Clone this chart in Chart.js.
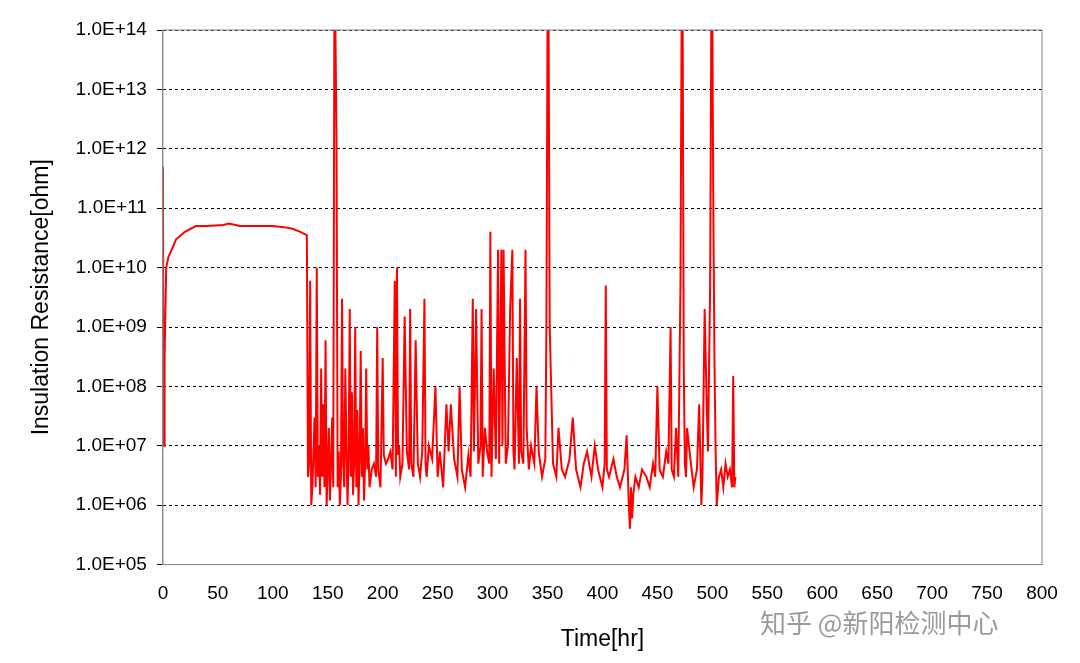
<!DOCTYPE html>
<html><head><meta charset="utf-8">
<script src="https://cdn.jsdelivr.net/npm/chart.js@4"></script>
<style>html,body{margin:0;background:#fff}#w{position:relative;width:1080px;height:663px}
#wm{position:absolute;left:760px;top:603px;font:26px "Noto Sans CJK SC";color:#9a9a9a}</style>
</head><body><div id="w"><canvas id="c" width="1080" height="663"></canvas><div id="wm">知乎 @新阳检测中心</div></div>
<script>
const yTicks=[1e5,1e6,1e7,1e8,1e9,1e10,1e11,1e12,1e13,1e14];
const xTicks=[0,50,100,150,200,250,300,350,400,450,500,550,600,650,700,750,800];
const times=[
0,0.5,1,1.5,2,3,5,8,12,20,
30,40,55,60,70,85,100,110,118,125,
130,131,132,133,134,135,136,137,138,139,
140,141,142,143,144,145,146,147,148,149,
150,151,152,153,154,155,156,157,158,159,
160,161,162,163,164,165,166,167,168,169,
170,171,172,173,174,175,176,177,178,179,
180,181,182,183,184,185,186,187,188,190,
192,194,195,196,198,200,201,203,205,207,
209,211,212,213,214,215,216,218,220,222,
224,225,226,228,230,232,233,234,236,238,
239,240,242,245,248,250,252,255,258,260,
262,265,268,270,272,275,278,280,282,283,
285,287,289,290,291,293,295,297,298,299,
301,303,305,306,308,309,310,312,314,316,
318,319,320,322,324,325,326,328,330,331,
333,335,338,340,342,345,348,349,350,351,
352,355,358,360,363,366,370,373,376,380,
383,386,390,393,396,400,402,403,404,406,
410,413,416,420,422,424,425,426,427,428,
430,433,436,440,443,446,448,450,452,455,
458,460,462,463,465,467,469,471,472,473,
474,475,476,477,480,483,486,488,490,491,
493,495,496,497,498,499,500,501,502,503,
504,506,508,510,512,514,516,518,519,520,
521];
const values=[
5e11,1e8,1e7,3e8,1e9,1e10,1.5e10,2e10,3e10,4e10,
5e10,5e10,5.2e10,5.5e10,5e10,5e10,5e10,4.8e10,4.5e10,4e10,
3.6e10,3.5e10,3e6,5e6,6e9,1e6,2e6,8e6,3e7,2e6,
1e10,3e6,1e7,1.5e6,2e8,3e6,5e7,2e6,6e8,1e6,
4e6,2e7,1.2e6,5e6,3e7,2e6,1e14,1e14,1e12,2e6,
8e6,1e6,3e6,3e9,5e6,2e6,2e8,1e7,1e6,6e6,
2e9,3e6,8e7,1.5e6,5e6,1e9,2e6,4e7,1e6,6e6,
4e8,3e6,2e7,1.2e6,5e6,2e8,4e6,1e7,2e6,4e6,
5e6,3e6,1e9,4e6,2e6,3e8,7e6,5e6,6e6,8e6,
4e6,6e9,3e6,1e10,7e6,1e7,3e6,5e6,1.5e9,8e6,
4e6,2e9,5e6,3e6,6e8,5e6,4e6,3e6,8e6,3e9,
5e6,3e6,1e7,6e6,1e8,3e6,8e6,2e6,5e7,8e6,
5e7,6e6,3e6,1e8,4e6,2e6,7e6,3e6,3e9,8e6,
2e9,5e6,1e7,2e9,3e6,2e7,8e6,5e6,4e10,3e6,
2e8,6e6,2e10,5e6,2e10,1e7,2e10,5e6,1e7,2e9,
2e10,8e6,4e6,3e8,5e6,3e9,8e6,5e6,2e10,2e7,
4e6,1e7,5e6,1e8,8e6,3e6,6e6,1e9,1e14,1e14,
1e9,5e6,3e6,2e7,4e6,3e6,6e6,3e7,4e6,2e6,
5e6,8e6,3e6,1e7,4e6,2e6,5e6,5e9,4e6,3e6,
6e6,3e6,2e6,4e6,1.5e7,1e6,4e5,2e6,6e5,1.5e6,
3e6,2e6,4e6,3e6,2e6,5e6,3e6,1e8,4e6,3e6,
8e6,5e6,1e9,4e6,3e6,2e7,3e6,5e9,1e14,1e14,
2e8,5e6,3e6,2e7,6e6,2e6,4e6,5e7,1e6,3e6,
2e9,4e7,8e6,2e8,5e9,1e14,1e14,5e10,2e8,8e6,
1e6,3e6,4e6,2e6,5e6,3e6,4e6,2e6,1.5e8,2e6,
3e6];
const pts=times.map((t,i)=>({x:t,y:values[i]}));
new Chart(document.getElementById('c'),{type:'line',
data:{datasets:[{data:pts,borderColor:'#ff0000',borderWidth:2,pointRadius:0,tension:0}]},
options:{responsive:false,animation:false,
layout:{padding:{left:28,right:38,top:30,bottom:6}},
plugins:{legend:{display:false},tooltip:{enabled:false}},
scales:{
x:{type:'linear',min:0,max:800,afterBuildTicks:a=>{a.ticks=xTicks.map(v=>({value:v}))},
 grid:{display:false,drawTicks:true,tickLength:6,color:'#888'},border:{color:'#888'},
 ticks:{color:'#000',font:{family:'Liberation Sans',size:19},maxRotation:0,autoSkip:false,padding:12},
 title:{display:true,text:'Time[hr]',color:'#000',font:{family:'Liberation Sans',size:23},padding:{top:8,bottom:4}}},
y:{type:'logarithmic',min:1e5,max:1e14,afterBuildTicks:a=>{a.ticks=yTicks.map(v=>({value:v}))},
 grid:{color:'#000',lineWidth:1,drawTicks:true,tickLength:6},
 border:{color:'#888',dash:[3,3]},
 ticks:{color:'#000',font:{family:'Liberation Sans',size:19},autoSkip:false,padding:10,
  callback:v=>{const e=Math.round(Math.log10(v));return '1.0E+'+(e<10?'0':'')+e;}},
 title:{display:true,text:'Insulation Resistance[ohm]',color:'#000',font:{family:'Liberation Sans',size:23},padding:{top:0,bottom:10}}}
}},
plugins:[{id:'box',afterDraw(c){const a=c.chartArea,x=c.ctx;x.save();x.strokeStyle='#888';x.lineWidth=1;x.strokeRect(a.left,a.top,a.right-a.left,a.bottom-a.top);x.restore();}}]
});
</script></body></html>
